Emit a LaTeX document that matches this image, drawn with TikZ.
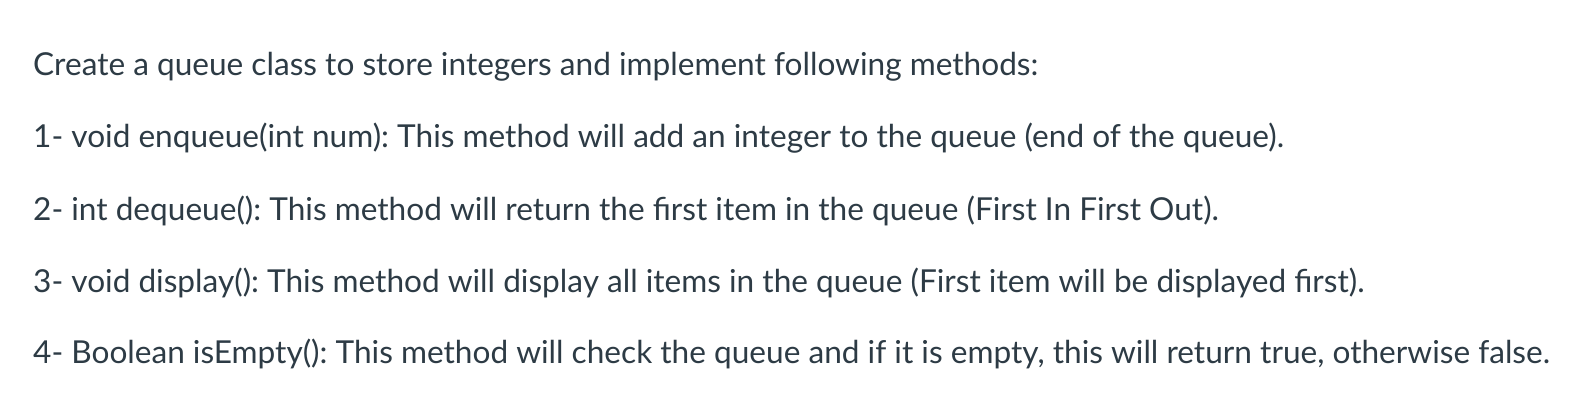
\documentclass[tikz,border=0pt]{standalone}
\usepackage{fontspec}
\setmainfont{Lato}
\frenchspacing
\definecolor{canvastext}{HTML}{2D3B45}
\begin{document}
\begin{tikzpicture}[x=1pt,y=-1pt,txt/.style={anchor=base west,inner sep=0pt,text=canvastext,font=\fontsize{31.6}{36}\selectfont}]
\useasboundingbox[fill=white] (0,0) rectangle (1584,406);
\node[txt] (l1) at (33,76) {Create a queue class to store integers and implement following methods:};
\node[txt] (l2) at (33,148) {1- void enqueue(int num): This method will add an integer to the queue (end of the queue).};
\node[txt] (l3) at (33,220) {2- int dequeue(): This method will return the first item in the queue (First In First Out).};
\node[txt] (l4) at (33,292) {3- void display(): This method will display all items in the queue (First item will be displayed first).};
\node[txt] (l5) at (33,363) {4- Boolean isEmpty(): This method will check the queue and if it is empty, this will return true, otherwise false.};
\end{tikzpicture}
\end{document}
